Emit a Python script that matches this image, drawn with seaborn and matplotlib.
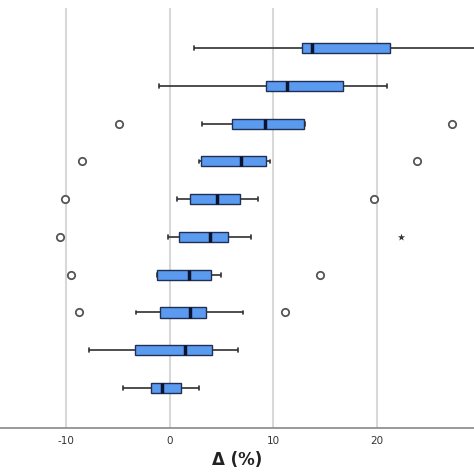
import numpy as np
import pandas as pd
import seaborn as sns
import matplotlib.pyplot as plt

# Statistiques (de haut en bas)
groups = ['G1', 'G2', 'G3', 'G4', 'G5', 'G6', 'G7', 'G8', 'G9', 'G10']
whisk_lo = [2.35, -1.0, 3.1, 2.85, 0.75, -0.15, -1.25, -3.3, -7.8, -4.5]
q1 = [12.8, 9.3, 6.05, 3.05, 1.95, 0.85, -1.25, -0.9, -3.4, -1.85]
median = [13.7, 11.3, 9.25, 6.85, 4.55, 3.85, 1.9, 1.95, 1.5, -0.75]
q3 = [21.3, 16.7, 12.95, 9.35, 6.8, 5.65, 3.95, 3.55, 4.1, 1.05]
whisk_hi = [31.0, 21.0, 13.1, 9.7, 8.5, 7.9, 5.0, 7.1, 6.55, 2.85]

# valeurs aberrantes (cercles) et extrêmes (étoile)
out_group = ['G3', 'G3', 'G4', 'G4', 'G5', 'G5', 'G6', 'G7', 'G7', 'G8', 'G8']
out_value = [-4.9, 27.3, -8.5, 23.9, -10.1, 19.7, -10.6, -9.5, 14.5, -8.75, 11.15]
ext_group = ['G6']
ext_value = [22.3]

rows = []
for i, g in enumerate(groups):
    for v in (whisk_lo[i], q1[i], median[i], q3[i], whisk_hi[i]):
        rows.append((g, v))
df = pd.DataFrame(rows, columns=['groupe', 'delta'])
df_out = pd.DataFrame({'groupe': out_group, 'delta': out_value})
df_ext = pd.DataFrame({'groupe': ext_group, 'delta': ext_value})

sns.set_style('white')
fig = plt.figure(figsize=(4.74, 4.74), dpi=100)
ax = fig.add_axes([0.0, 0.097, 1.0, 0.886])

sns.boxplot(data=df, x='delta', y='groupe', order=groups, orient='h',
            whis=np.inf, width=0.27, color='#5b9bef', saturation=1,
            linewidth=1.0, linecolor='#1f2f55',
            medianprops={'color': '#0a1430', 'linewidth': 2.5},
            whiskerprops={'color': '#303030', 'linewidth': 1.2},
            capprops={'color': '#303030', 'linewidth': 1.2},
            capwidths=0.1, ax=ax)
sns.scatterplot(data=df_out, x='delta', y='groupe', marker='o', s=28,
                facecolor='white', edgecolor='#555555', linewidth=1.3, ax=ax)
sns.scatterplot(data=df_ext, x='delta', y='groupe', marker='*', s=30,
                color='#333333', linewidth=0, ax=ax)

ax.set_xlim(-16.4, 29.4)
ax.set_ylim(10.06, -1.06)
ax.set_xticks([-10, 0, 10, 20])
ax.set_xticklabels(['-10', '0', '10', '20'], fontsize=7.5, color='#333333')
ax.tick_params(axis='x', length=0, pad=6)
ax.set_yticks([])
ax.set_ylabel('')
ax.set_xlabel('Δ (%)', fontsize=12, fontweight='bold', color='#222222', labelpad=3)
ax.grid(axis='x', color='#d8d8d8', linewidth=1.5)
ax.set_axisbelow(True)
for s in ['top', 'left', 'right']:
    ax.spines[s].set_visible(False)
ax.spines['bottom'].set_color('#888888')
ax.spines['bottom'].set_linewidth(1.2)

fig.savefig('out.png', dpi=100)
